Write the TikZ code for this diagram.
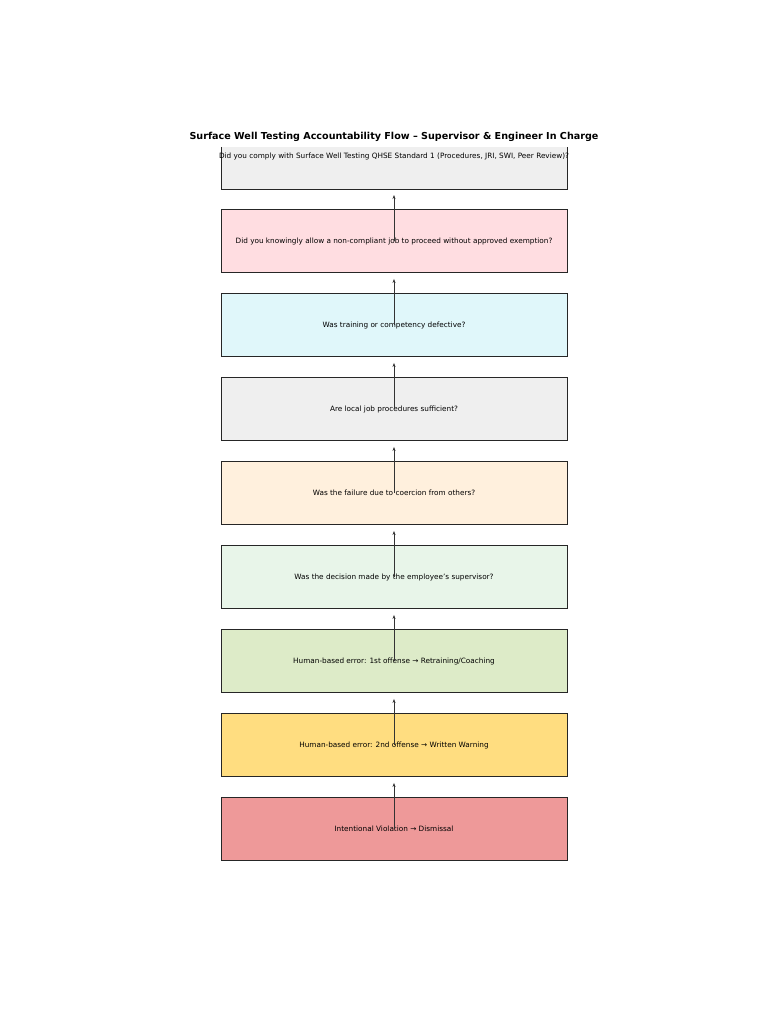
\documentclass[tikz,border=0pt]{standalone}
\usepackage{fontspec}
\setmainfont{DejaVu Sans}
\usetikzlibrary{arrows.meta}
\definecolor{cGrey}{HTML}{EFEFEF}
\definecolor{cPink}{HTML}{FFDDE1}
\definecolor{cCyan}{HTML}{E0F7FA}
\definecolor{cPeach}{HTML}{FFF0DD}
\definecolor{cMint}{HTML}{E8F5E9}
\definecolor{cLime}{HTML}{DDEBC8}
\definecolor{cGold}{HTML}{FFDD80}
\definecolor{cRose}{HTML}{EE9999}
\tikzset{
	flowbox/.style={draw=black!85, line width=0.9pt, minimum width=346pt, minimum height=63pt, inner sep=0pt},
	flowtext/.style={font=\fontsize{7.3}{8}\selectfont},
	up/.style={-{Stealth[length=4pt,width=3pt]}, line width=0.8pt, black!80}
}
\begin{document}
\begin{tikzpicture}[x=1pt,y=-1pt]
\useasboundingbox (0,0) rectangle (768,1024);
	% top box, clipped at the top edge
	\fill[cGrey] (221,147) rectangle (567,189);
	\draw[line width=0.9pt, black!85] (221,147) -- (221,189) -- (567,189) -- (567,147);
	\coordinate (b1s) at (394,189);
	\node[flowtext] (b1) at (394,156) {Did you comply with Surface Well Testing QHSE Standard 1 (Procedures, JRI, SWI, Peer Review)?};

	\foreach \Idx/\Col/\Txt in {2/cPink/{Did you knowingly allow a non-compliant job to proceed without approved exemption?},
		3/cCyan/{Was training or competency defective?},
		4/cGrey/{Are local job procedures sufficient?},
		5/cPeach/{Was the failure due to coercion from others?},
		6/cMint/{Was the decision made by the employee's supervisor?},
		7/cLime/{Human-based error: 1st offense → Retraining/Coaching},
		8/cGold/{Human-based error: 2nd offense → Written Warning},
		9/cRose/{Intentional Violation → Dismissal}}{
		\node[flowbox, fill=\Col] (b\Idx) at (394,{241+(\Idx-2)*84}) {};
		\node[flowtext] at (b\Idx) {\Txt};
		\coordinate (b\Idx s) at (b\Idx.south);
	}

	\foreach \Lo [evaluate=\Lo as \Hi using int(\Lo-1)] in {2,...,9}{
		\draw[up] (b\Lo.center) -- ([yshift=-6pt]b\Hi s);
	}

	\node[font=\bfseries\fontsize{9.6}{11}\selectfont] (title) at (394,137) {Surface Well Testing Accountability Flow – Supervisor \& Engineer In Charge};
\end{tikzpicture}
\end{document}
